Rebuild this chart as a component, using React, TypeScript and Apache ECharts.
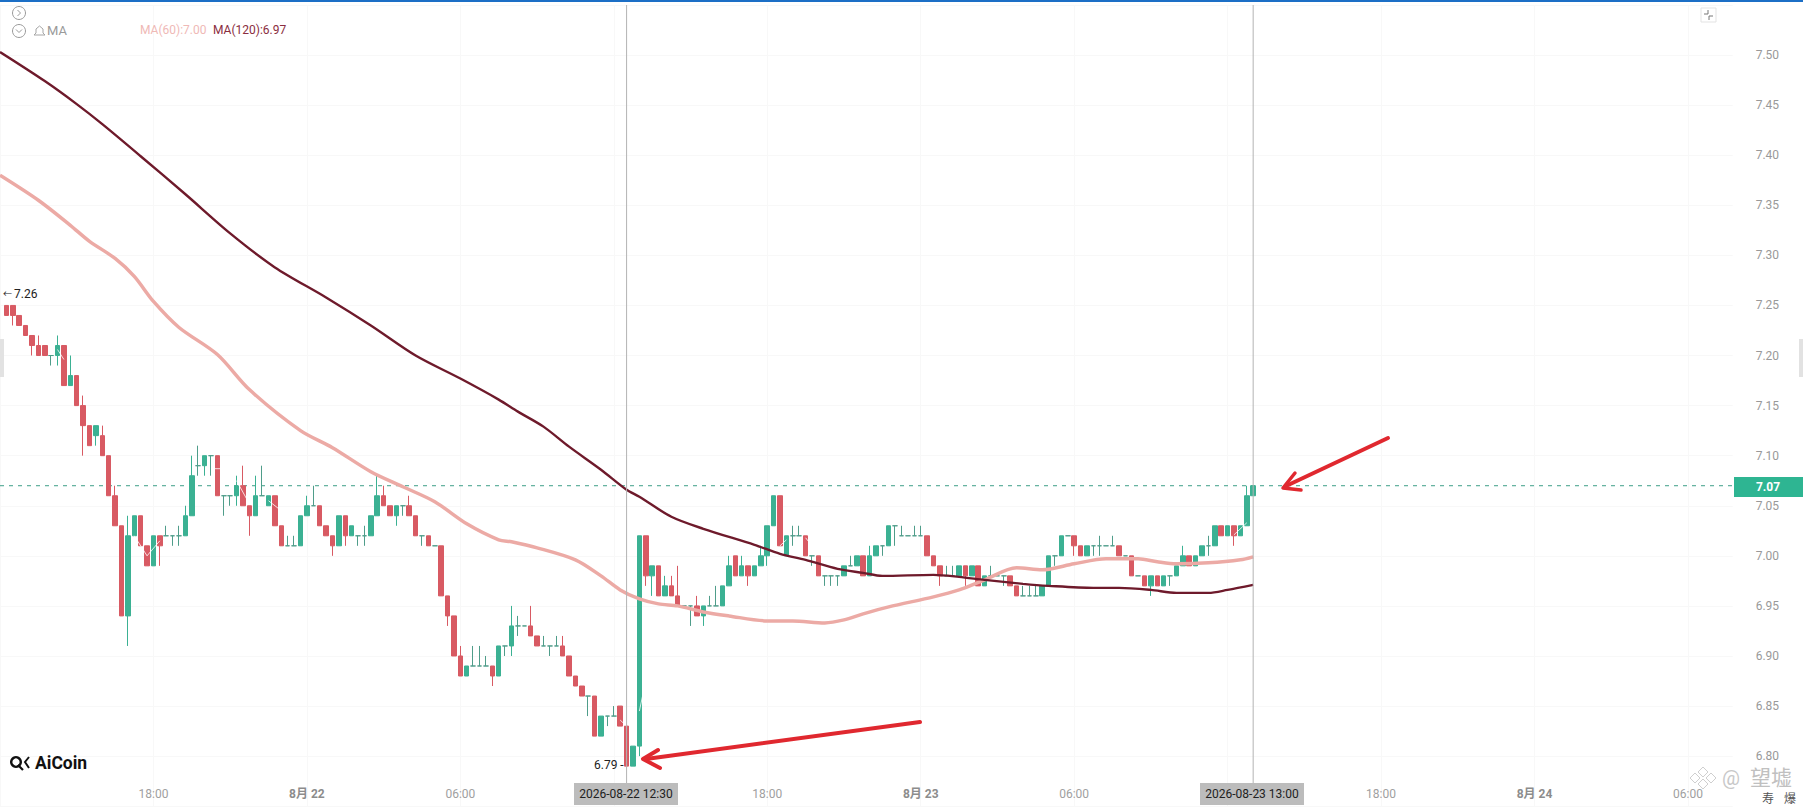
import React, { useEffect, useRef } from "react";
import * as echarts from "echarts";

const opens = [
  7.25,7.25,7.24,7.23,7.22,7.21,7.21,7.20,7.20,7.21,
  7.17,7.18,7.15,7.13,7.12,7.12,7.10,7.06,7.03,6.94,
  7.02,7.04,7.01,6.99,7.02,7.02,7.02,7.02,7.02,7.04,
  7.09,7.09,7.10,7.10,7.06,7.06,7.06,7.07,7.05,7.04,
  7.06,7.05,7.06,7.03,7.01,7.01,7.01,7.04,7.05,7.05,
  7.03,7.02,7.01,7.04,7.02,7.02,7.02,7.02,7.04,7.06,
  7.05,7.04,7.05,7.05,7.04,7.02,7.02,7.01,7.01,6.96,
  6.94,6.90,6.88,6.89,6.89,6.89,6.89,6.88,6.91,6.91,
  6.93,6.93,6.93,6.92,6.91,6.91,6.91,6.91,6.90,6.88,
  6.87,6.86,6.86,6.82,6.84,6.84,6.85,6.83,6.79,6.81,
  7.02,6.98,6.99,6.96,6.97,6.96,6.95,6.95,6.95,6.94,
  6.95,6.95,6.95,6.97,7.00,6.98,6.99,6.98,6.99,7.00,
  7.03,7.06,7.00,7.02,7.02,7.02,7.00,7.00,6.98,6.98,
  6.98,6.98,6.99,6.99,7.00,6.98,7.00,7.01,7.01,7.03,
  7.02,7.02,7.02,7.02,7.02,7.00,6.99,6.98,6.98,6.98,
  6.99,6.98,6.99,6.97,6.98,6.98,6.98,6.98,6.97,6.96,
  6.96,6.96,6.96,6.97,7.00,7.00,7.02,7.02,7.01,7.00,
  7.01,7.01,7.01,7.01,7.01,7.00,7.00,6.98,6.98,6.97,
  6.98,6.97,6.98,6.98,6.99,7.00,6.99,7.00,7.01,7.01,
  7.03,7.02,7.03,7.02,7.03,7.06,
];
const closes = [
  7.24,7.24,7.23,7.22,7.21,7.20,7.20,7.20,7.21,7.17,
  7.18,7.15,7.13,7.11,7.13,7.10,7.06,7.03,6.94,7.02,
  7.04,7.01,6.99,7.02,7.01,7.02,7.02,7.02,7.04,7.08,
  7.09,7.10,7.10,7.06,7.06,7.06,7.07,7.05,7.04,7.06,
  7.06,7.06,7.03,7.01,7.01,7.01,7.04,7.05,7.05,7.03,
  7.02,7.01,7.04,7.02,7.03,7.02,7.02,7.04,7.06,7.05,
  7.04,7.05,7.05,7.04,7.02,7.02,7.01,7.01,6.96,6.94,
  6.90,6.88,6.89,6.89,6.89,6.89,6.88,6.91,6.91,6.93,
  6.93,6.93,6.92,6.91,6.91,6.91,6.91,6.90,6.88,6.87,
  6.86,6.86,6.82,6.84,6.84,6.84,6.83,6.79,6.81,7.02,
  6.98,6.99,6.96,6.97,6.96,6.95,6.95,6.95,6.94,6.95,
  6.95,6.95,6.97,6.99,6.98,6.99,6.98,6.99,7.00,7.03,
  7.06,7.01,7.02,7.02,7.02,7.00,7.00,6.98,6.98,6.98,
  6.98,6.99,6.99,7.00,6.98,7.00,7.01,7.01,7.03,7.03,
  7.02,7.02,7.02,7.02,7.00,6.99,6.98,6.98,6.98,6.99,
  6.98,6.99,6.97,6.98,6.98,6.98,6.98,6.97,6.96,6.96,
  6.96,6.96,6.97,7.00,7.00,7.02,7.02,7.01,7.00,7.01,
  7.01,7.01,7.01,7.01,7.00,7.00,6.98,6.98,6.97,6.98,
  6.97,6.98,6.98,6.99,7.00,6.99,7.00,7.01,7.01,7.03,
  7.02,7.03,7.02,7.03,7.06,7.07,
];
const highs = [
  7.25,7.25,7.24,7.23,7.22,7.22,7.21,7.20,7.22,7.21,
  7.20,7.18,7.16,7.13,7.13,7.13,7.10,7.07,7.03,7.04,
  7.04,7.04,7.01,7.02,7.02,7.03,7.02,7.03,7.05,7.10,
  7.11,7.10,7.10,7.10,7.06,7.06,7.08,7.09,7.05,7.08,
  7.09,7.06,7.06,7.03,7.02,7.02,7.04,7.06,7.07,7.05,
  7.03,7.02,7.04,7.04,7.03,7.02,7.03,7.04,7.08,7.07,
  7.05,7.05,7.05,7.06,7.04,7.02,7.02,7.01,7.01,6.96,
  6.94,6.91,6.89,6.91,6.91,6.90,6.89,6.91,6.91,6.95,
  6.94,6.93,6.95,6.92,6.92,6.91,6.92,6.92,6.90,6.88,
  6.87,6.86,6.86,6.84,6.84,6.85,6.85,6.83,6.81,7.02,
  7.02,6.99,6.99,6.98,6.98,6.99,6.95,6.95,6.96,6.95,
  6.96,6.97,6.97,7.00,7.00,7.00,6.99,6.99,7.01,7.03,
  7.06,7.06,7.02,7.03,7.03,7.02,7.00,7.00,6.98,6.98,
  6.98,6.99,7.00,7.00,7.00,7.01,7.01,7.01,7.03,7.03,
  7.03,7.02,7.03,7.03,7.02,7.00,6.99,6.99,6.99,6.99,
  6.99,6.99,6.99,6.98,6.99,6.98,6.98,6.98,6.97,6.97,
  6.97,6.97,6.97,7.00,7.00,7.02,7.02,7.02,7.01,7.01,
  7.01,7.02,7.01,7.02,7.01,7.00,7.00,6.98,6.98,6.98,
  6.98,6.98,6.98,6.99,7.01,7.00,7.00,7.01,7.02,7.03,
  7.03,7.03,7.03,7.03,7.07,7.07,
];
const lows = [
  7.24,7.23,7.23,7.22,7.20,7.20,7.20,7.19,7.19,7.17,
  7.17,7.15,7.10,7.11,7.11,7.10,7.06,7.03,6.94,6.91,
  7.02,7.01,6.99,6.99,6.99,7.02,7.01,7.01,7.02,7.04,
  7.08,7.08,7.08,7.06,7.04,7.05,7.05,7.05,7.02,7.04,
  7.06,7.05,7.03,7.01,7.01,7.01,7.01,7.04,7.05,7.03,
  7.02,7.00,7.01,7.01,7.02,7.01,7.01,7.02,7.04,7.05,
  7.04,7.03,7.04,7.04,7.02,7.01,7.01,7.01,6.96,6.93,
  6.90,6.88,6.88,6.89,6.89,6.89,6.87,6.88,6.90,6.90,
  6.92,6.93,6.92,6.91,6.91,6.90,6.91,6.90,6.88,6.87,
  6.86,6.84,6.82,6.82,6.83,6.84,6.83,6.79,6.79,6.80,
  6.97,6.96,6.96,6.96,6.96,6.95,6.95,6.93,6.94,6.93,
  6.95,6.95,6.95,6.97,6.98,6.98,6.97,6.98,6.99,6.99,
  7.03,7.01,7.00,7.01,7.02,7.00,6.99,6.98,6.97,6.97,
  6.97,6.98,6.99,6.99,6.98,6.98,7.00,7.00,7.01,7.01,
  7.02,7.02,7.02,7.02,7.00,6.99,6.97,6.98,6.98,6.98,
  6.97,6.98,6.97,6.97,6.98,6.98,6.97,6.97,6.96,6.96,
  6.96,6.96,6.96,6.97,6.99,7.00,7.02,7.00,7.00,7.00,
  7.00,7.00,7.01,7.01,7.00,7.00,6.98,6.98,6.97,6.96,
  6.97,6.97,6.97,6.98,6.99,6.99,6.99,7.00,7.00,7.01,
  7.02,7.02,7.01,7.02,7.03,7.06,
];

const ma60Slots = [0,6,11,14,18,21,24,28,34,39,47,52,58,63,68,73,78,80,84,90,94,97,100,103,106,110,114,120,124,129,132,135,139,146,150,154,159,163,168,173,178,181,184,189,194,196];
const ma60Values = [7.38,7.355,7.33,7.314,7.297,7.279,7.254,7.228,7.201,7.166,7.125,7.108,7.084,7.069,7.054,7.032,7.016,7.014,7.008,6.996,6.98,6.966,6.957,6.952,6.95,6.944,6.94,6.935,6.935,6.933,6.936,6.942,6.949,6.959,6.966,6.976,6.988,6.986,6.992,6.997,6.997,6.994,6.992,6.993,6.996,6.999];
const ma120Slots = [0,7,12,16,22,29,36,43,51,58,65,72,78,81,85,89,94,98,100,105,110,118,122,126,131,135,138,146,150,154,160,164,171,175,180,184,189,192,196];
const ma120Values = [7.503,7.474,7.451,7.431,7.399,7.361,7.322,7.288,7.258,7.23,7.2,7.177,7.156,7.144,7.129,7.109,7.086,7.066,7.059,7.039,7.027,7.011,7.002,6.996,6.987,6.983,6.98,6.981,6.979,6.976,6.972,6.97,6.968,6.968,6.966,6.963,6.963,6.966,6.971];
// the pale fast average, only readable where it crosses a candle body
const fastSlots = [9,10,null,21,23,25,null,33,35,null,37,39,null,42,44,null,97,98,null,100,101,null,122,123,null,126,127,null,193,195];
const fastValues = [7.206,7.196,null,7.02,7.0,7.015,null,7.087,7.087,null,7.075,7.052,null,7.055,7.045,null,6.836,6.83,null,6.845,6.875,null,7.01,7.016,null,7.018,7.01,null,7.021,7.033];

const slotCount = 272;
const firstSlotUtc = Date.UTC(2026, 7, 21, 12, 0);
const pad = (n: number) => String(n).padStart(2, "0");
const categories: string[] = [];
for (let s = 0; s < slotCount; s++) {
  const d = new Date(firstSlotUtc + s * 15 * 60000);
  categories.push(`${d.getUTCFullYear()}-${pad(d.getUTCMonth() + 1)}-${pad(d.getUTCDate())} ${pad(d.getUTCHours())}:${pad(d.getUTCMinutes())}`);
}
const xTickTimes = ["2026-08-21 18:00","2026-08-22 00:00","2026-08-22 06:00","2026-08-22 18:00","2026-08-23 00:00","2026-08-23 06:00","2026-08-23 18:00","2026-08-24 00:00","2026-08-24 06:00"];
const xTickLabels = ["18:00","{b|8月 22}","06:00","18:00","{b|8月 23}","06:00","18:00","{b|8月 24}","06:00"];
const cursorTimes = ["2026-08-22 12:30","2026-08-23 13:00"];
const lastPrice = 7.07;

const FONT = 'Roboto, "Noto Sans CJK SC", sans-serif';
const GREEN = "#3bb193";
const RED = "#d85a63";

const txt = (x: number, y: number, text: string, fill: string, fontSize = 12, extra: any = {}) => ({
  type: "text", x, y, silent: true, z: 30,
  style: { text, fill, fontSize, fontFamily: FONT, textVerticalAlign: "middle", verticalAlign: "middle", ...extra },
});
const circleBtn = (cx: number, cy: number, pts: number[][]) => [
  { type: "circle", shape: { cx, cy, r: 6.5 }, style: { fill: "none", stroke: "#9a9a9a", lineWidth: 1 }, z: 30 },
  { type: "polyline", shape: { points: pts.map(p => [cx + p[0], cy + p[1]]) }, style: { fill: "none", stroke: "#9a9a9a", lineWidth: 1 }, z: 30 },
];
const poly = (points: number[][], stroke: string, lineWidth: number) => ({
  type: "polyline", shape: { points }, z: 40,
  style: { fill: "none", stroke, lineWidth, lineCap: "round", lineJoin: "round" },
});

export default function App() {
  const ref = useRef<HTMLDivElement>(null);
  useEffect(() => {
    document.body.style.margin = "0";
    document.body.style.background = "#fff";
    const chart = echarts.init(ref.current!, undefined, { renderer: "svg", width: 1803, height: 808 });
    const candle = [["-", "-", "-", "-"], ...opens.map((o, i) => [o, closes[i], lows[i], highs[i]])];
    chart.setOption({
      animation: false,
      backgroundColor: "#ffffff",
      grid: { left: -1.7, top: 5, width: 1734.4, height: 801.2, containLabel: false },
      xAxis: {
        type: "category",
        data: categories,
        boundaryGap: false,
        axisLine: { show: false },
        axisTick: { show: false },
        axisLabel: {
          inside: true,
          margin: 6,
          color: "#a0a0a0",
          fontSize: 12,
          fontFamily: FONT,
          interval: (_: number, v: string) => xTickTimes.includes(v),
          formatter: (v: string) => xTickLabels[xTickTimes.indexOf(v)] ?? "",
          rich: { b: { fontWeight: "bold", color: "#8c8c8c", fontSize: 12, fontFamily: FONT } },
        },
        splitLine: {
          show: true,
          lineStyle: { color: "#f8f8f8", width: 1 },
          interval: (_: number, v: string) => /(00|06|12|18):00$/.test(v),
        },
      },
      yAxis: {
        type: "value",
        position: "right",
        min: 6.75,
        max: 7.55,
        interval: 0.05,
        axisLine: { show: false },
        axisTick: { show: false },
        splitLine: { show: true, lineStyle: { color: "#f8f8f8", width: 1 } },
        axisLabel: {
          margin: 23,
          color: "#999999",
          fontSize: 12,
          fontFamily: FONT,
          showMinLabel: false,
          showMaxLabel: false,
          formatter: (v: number) => v.toFixed(2),
        },
      },
      series: [
        {
          type: "line", name: "last", silent: true, symbol: "none", z: 1,
          data: [[0, lastPrice], [slotCount - 1, lastPrice]],
          lineStyle: { color: "#3d9e87", width: 1, type: [4, 5] },
        },
        {
          type: "candlestick", name: "K", z: 2, barWidth: 5, silent: true,
          data: candle,
          itemStyle: { color: GREEN, color0: RED, borderColor: GREEN, borderColor0: RED, borderColorDoji: "#4f9d8a", borderWidth: 1 },
        },
        {
          type: "line", name: "fast", silent: true, symbol: "none", z: 3,
          data: fastSlots.map((s, i) => (s === null ? [0, "-"] : [s, fastValues[i]])),
          lineStyle: { color: "rgba(255,255,255,0.8)", width: 1 },
        },
        {
          type: "line", name: "MA(60)", silent: true, symbol: "none", z: 3, smooth: 0.3,
          data: ma60Slots.map((s, i) => [s, ma60Values[i]]),
          lineStyle: { color: "#ecaaa5", width: 3.5 },
        },
        {
          type: "line", name: "MA(120)", silent: true, symbol: "none", z: 4, smooth: 0.3,
          data: ma120Slots.map((s, i) => [s, ma120Values[i]]),
          lineStyle: { color: "#6e1a2b", width: 2.4 },
        },
        ...cursorTimes.map(t => ({
          type: "line", silent: true, symbol: "none", z: 5,
          data: [[categories.indexOf(t), 6.772], [categories.indexOf(t), 7.55]],
          lineStyle: { color: "#b4b4b4", width: 1 },
        })),
      ],
      graphic: [
        { type: "rect", shape: { x: 0, y: 0, width: 1803, height: 2 }, style: { fill: "#1c6fc6" }, z: 30 },
        ...circleBtn(19, 13, [[-1.5, -3], [1.5, 0], [-1.5, 3]]),
        ...circleBtn(19, 31, [[-3, -1.5], [0, 1.5], [3, -1.5]]),
        { type: "polyline", shape: { points: [[34, 35], [36, 33], [36, 29], [39.5, 26], [43, 29], [43, 33], [45, 35], [34, 35]] }, style: { fill: "none", stroke: "#a5a5a5", lineWidth: 1 }, z: 30 },
        txt(47, 30, "MA", "#9a9a9a", 13),
        txt(140, 30, "MA(60):7.00", "#efb9b6", 12),
        txt(213, 30, "MA(120):6.97", "#8a2d40", 12),
        { type: "rect", shape: { x: 1701, y: 8, width: 15, height: 14 }, style: { fill: "#fff", stroke: "#e3e3e3", lineWidth: 1 }, z: 30 },
        { type: "polyline", shape: { points: [[1704, 14], [1708, 14], [1708, 10]] }, style: { fill: "none", stroke: "#777", lineWidth: 1 }, z: 31 },
        { type: "polyline", shape: { points: [[1709, 20], [1709, 16], [1713, 16]] }, style: { fill: "none", stroke: "#777", lineWidth: 1 }, z: 31 },
        { type: "rect", shape: { x: 0, y: 339, width: 4, height: 38 }, style: { fill: "#e2e2e2" }, z: 30 },
        { type: "rect", shape: { x: 1799, y: 339, width: 4, height: 38 }, style: { fill: "#e2e2e2" }, z: 30 },
        txt(3, 294, "←", "#222222", 9),
        txt(14, 294, "7.26", "#222222", 12),
        txt(594, 765, "6.79 -", "#222222", 12),
        { type: "rect", shape: { x: 1734, y: 477, width: 69, height: 20 }, style: { fill: "#2eb592" }, z: 30 },
        txt(1768, 487, "7.07", "#ffffff", 12, { align: "center", textAlign: "center", fontWeight: "bold" }),
        ...[[574, 783, "2026-08-22 12:30"], [1200, 783, "2026-08-23 13:00"]].flatMap(([x, y, t]: any) => [
          { type: "rect", shape: { x, y, width: 104, height: 22 }, style: { fill: "#bcbcbc" }, z: 30 },
          txt(x + 52, y + 11, t, "#222222", 12, { align: "center", textAlign: "center" }),
        ]),
        poly([[920, 722], [646, 759]], "#e0282f", 4),
        poly([[658, 750], [643, 759], [660, 768]], "#e0282f", 4),
        poly([[1388, 438], [1286, 486]], "#e0282f", 4),
        poly([[1295, 473], [1283, 488], [1301, 490]], "#e0282f", 3.5),
        { type: "ring", shape: { cx: 16, cy: 762, r: 6, r0: 3.6 }, style: { fill: "#111111" }, z: 30 },
        { type: "line", shape: { x1: 18, y1: 765, x2: 23, y2: 770 }, style: { stroke: "#111111", lineWidth: 2.2 }, z: 30 },
        { type: "polyline", shape: { points: [[29, 757], [25, 762], [29, 768]] }, style: { fill: "none", stroke: "#111111", lineWidth: 2 }, z: 30 },
        txt(35, 763, "AiCoin", "#111111", 17.5, { fontWeight: "bold" }),
        ...[[1695, 778], [1703, 772], [1711, 778], [1703, 784]].map(([cx, cy]) => ({
          type: "polygon", z: 30,
          shape: { points: [[cx - 5, cy], [cx, cy - 5], [cx + 5, cy], [cx, cy + 5]] },
          style: { fill: "none", stroke: "#cfcfcf", lineWidth: 1 },
        })),
        txt(1722, 778, "@", "#c8c8c8", 20),
        txt(1750, 778, "望墟", "#c0c0c0", 21),
        txt(1762, 799, "寿", "#555555", 12),
        txt(1784, 799, "爆", "#555555", 12),
      ],
    });
    return () => chart.dispose();
  }, []);
  return <div ref={ref} style={{ position: "absolute", left: 0, top: 0, width: 1803, height: 808, overflow: "hidden" }} />;
}
